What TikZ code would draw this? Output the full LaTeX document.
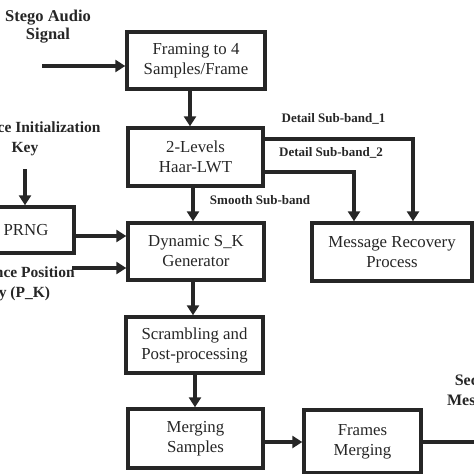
\documentclass[tikz,border=0pt]{standalone}
\usepackage{fontspec}
\setmainfont{Liberation Serif}
\usetikzlibrary{arrows.meta}
\definecolor{ink}{RGB}{38,38,38}
\begin{document}
\begin{tikzpicture}[x=1pt,y=-1pt,
  box/.style={draw=ink,line width=3.4pt,rectangle,inner sep=0pt,align=center,text=ink,
    font=\fontsize{16.8}{20}\selectfont},
  lbl/.style={align=center,text=ink,inner sep=0pt,font=\bfseries\fontsize{16.5}{18}\selectfont},
  sub/.style={align=center,text=ink,inner sep=0pt,font=\bfseries\fontsize{13}{14}\selectfont},
  arr/.style={draw=ink,line width=3.6pt,-{Triangle[length=10pt,width=12pt]}},
  ln/.style={draw=ink,line width=3.6pt}]
\useasboundingbox (0,0) rectangle (474,474);
\clip (0,0) rectangle (474,474);
% boxes
\node[box,minimum width=138pt,minimum height=57pt] (framing) at (196,60.5) {Framing to 4\\Samples/Frame};
\node[box,minimum width=135pt,minimum height=58pt] (haar) at (195.5,157) {2-Levels\\Haar-LWT};
\node[box,minimum width=136pt,minimum height=57pt] (dyn) at (196,251.5) {Dynamic S\_K\\Generator};
\node[box,minimum width=160pt,minimum height=58pt] (mr) at (392,252) {Message Recovery\\Process};
\node[box,minimum width=96pt,minimum height=46pt] (prng) at (26,230) {PRNG};
\node[box,minimum width=137pt,minimum height=56pt] (scr) at (194.5,345) {Scrambling and\\Post-processing};
\node[box,minimum width=135pt,minimum height=59pt] (merge) at (195.5,438.5) {Merging\\Samples};
\node[box,minimum width=117pt,minimum height=63pt] (frames) at (362.5,441.5) {Frames\\Merging};
% labels
\node[lbl,font=\bfseries\fontsize{16.5}{18}\selectfont] (stego) at (48,27) {Stego Audio\\Signal};
\node[lbl,font=\bfseries\fontsize{15.5}{20}\selectfont] (ikey) at (25,139) {Sequence Initialization\\Key};
\node[lbl,font=\bfseries\fontsize{15.5}{20}\selectfont] (pkey) at (15,284) {Sequence Position\\Key (P\_K)};
\node[lbl,font=\bfseries\fontsize{16}{20}\selectfont] (secret) at (476,392) {Secret\\Message};
\node[sub] (d1) at (333.5,119) {Detail Sub-band\_1};
\node[sub] (d2) at (331,153) {Detail Sub-band\_2};
\node[sub] (sm) at (260,200) {Smooth Sub-band};
% coordinates
\coordinate (in) at (42,66);
\coordinate (kin) at (25,169);
\coordinate (pin) at (72,268);
\coordinate (c1) at (413,139);
\coordinate (c2) at (354,172);
\coordinate (out) at (500,442);
\coordinate (x190) at (190,0);
\coordinate (x193) at (193,0);
\coordinate (x195) at (195,0);
% connectors
\draw[arr] (in) -- (in -| framing.west);
\draw[arr] (framing.south -| x190) -- (haar.north -| x190);
\draw[arr] (haar.south -| x193) -- (dyn.north -| x193);
\draw[arr] (dyn.south -| x193) -- (scr.north -| x193);
\draw[arr] (scr.south -| x195) -- (merge.north -| x195);
\draw[arr] (haar.east |- c1) -- (c1) -- (c1 |- mr.north);
\draw[arr] (haar.east |- c2) -- (c2) -- (c2 |- mr.north);
\draw[arr] (kin) -- (kin |- prng.north);
\draw[arr] (prng.east |- 0,236) -- (dyn.west |- 0,236);
\draw[arr] (pin) -- (pin -| dyn.west);
\draw[arr] (merge.east |- 0,442) -- (frames.west |- 0,442);
\draw[arr] (frames.east |- out) -- (out);
\end{tikzpicture}
\end{document}
